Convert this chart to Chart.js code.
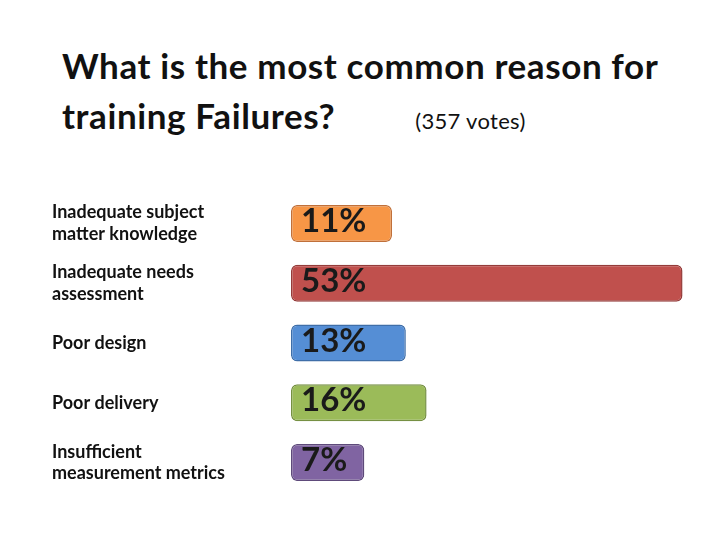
<!DOCTYPE html>
<html><head><meta charset="utf-8">
<script src="https://cdn.jsdelivr.net/npm/chart.js@4/dist/chart.umd.min.js"></script>
<style>
html,body{margin:0;padding:0;background:#fff;width:728px;height:546px;overflow:hidden}
#t{position:absolute;left:62px;top:40px;font:bold 35px Lato,"Liberation Sans",sans-serif;color:#111;line-height:50px;letter-spacing:0.6px}
#t span{font:normal 22px Lato,sans-serif;margin-left:80px;letter-spacing:0.3px}
#w{position:absolute;left:52px;top:158px;width:648px;height:370px}
</style></head><body>
<div id="t">What is the most common reason for<br>training Failures?<span>(357 votes)</span></div>
<div id="w"><canvas id="c"></canvas></div>
<script>
const categories=[["Inadequate subject","matter knowledge"],["Inadequate needs","assessment"],["Poor design"],["Poor delivery"],["Insufficient","measurement metrics"]];
const values=[11,53,13,16,7];
const fills=["#F79646","#C0504D","#558ED5","#9BBB59","#8064A2"];
const borders=["#C0703A","#943C3A","#3F6EA8","#769043","#5E4A7A"];
const BASE=-3.6;
new Chart(document.getElementById('c'),{
type:'bar',
data:{labels:categories,datasets:[{data:values.map(v=>[BASE,v]),backgroundColor:fills,borderColor:borders,borderWidth:1.5,borderRadius:6,borderSkipped:false,barPercentage:0.62,categoryPercentage:1}]},
options:{indexAxis:'y',responsive:true,maintainAspectRatio:false,animation:false,
layout:{padding:{right:14,top:0,bottom:0}},
plugins:{legend:{display:false},tooltip:{enabled:false}},
scales:{x:{min:BASE,max:53.5,display:false},
y:{afterFit(s){s.width=239;},grid:{display:false},border:{display:false},ticks:{crossAlign:'far',color:'#111',font:{family:'Lato,sans-serif',weight:'bold',size:18},padding:14}}}},
plugins:[{id:'vl',afterDatasetsDraw(ch){const c=ch.ctx;const m=ch.getDatasetMeta(0);c.save();c.font='bold 33px Lato,sans-serif';c.fillStyle='#1a1a1a';c.textBaseline='middle';
m.data.forEach((b,i)=>{c.fillText(values[i]+'%',b.base+10,b.y-2);});c.restore();}}]
});
</script></body></html>
